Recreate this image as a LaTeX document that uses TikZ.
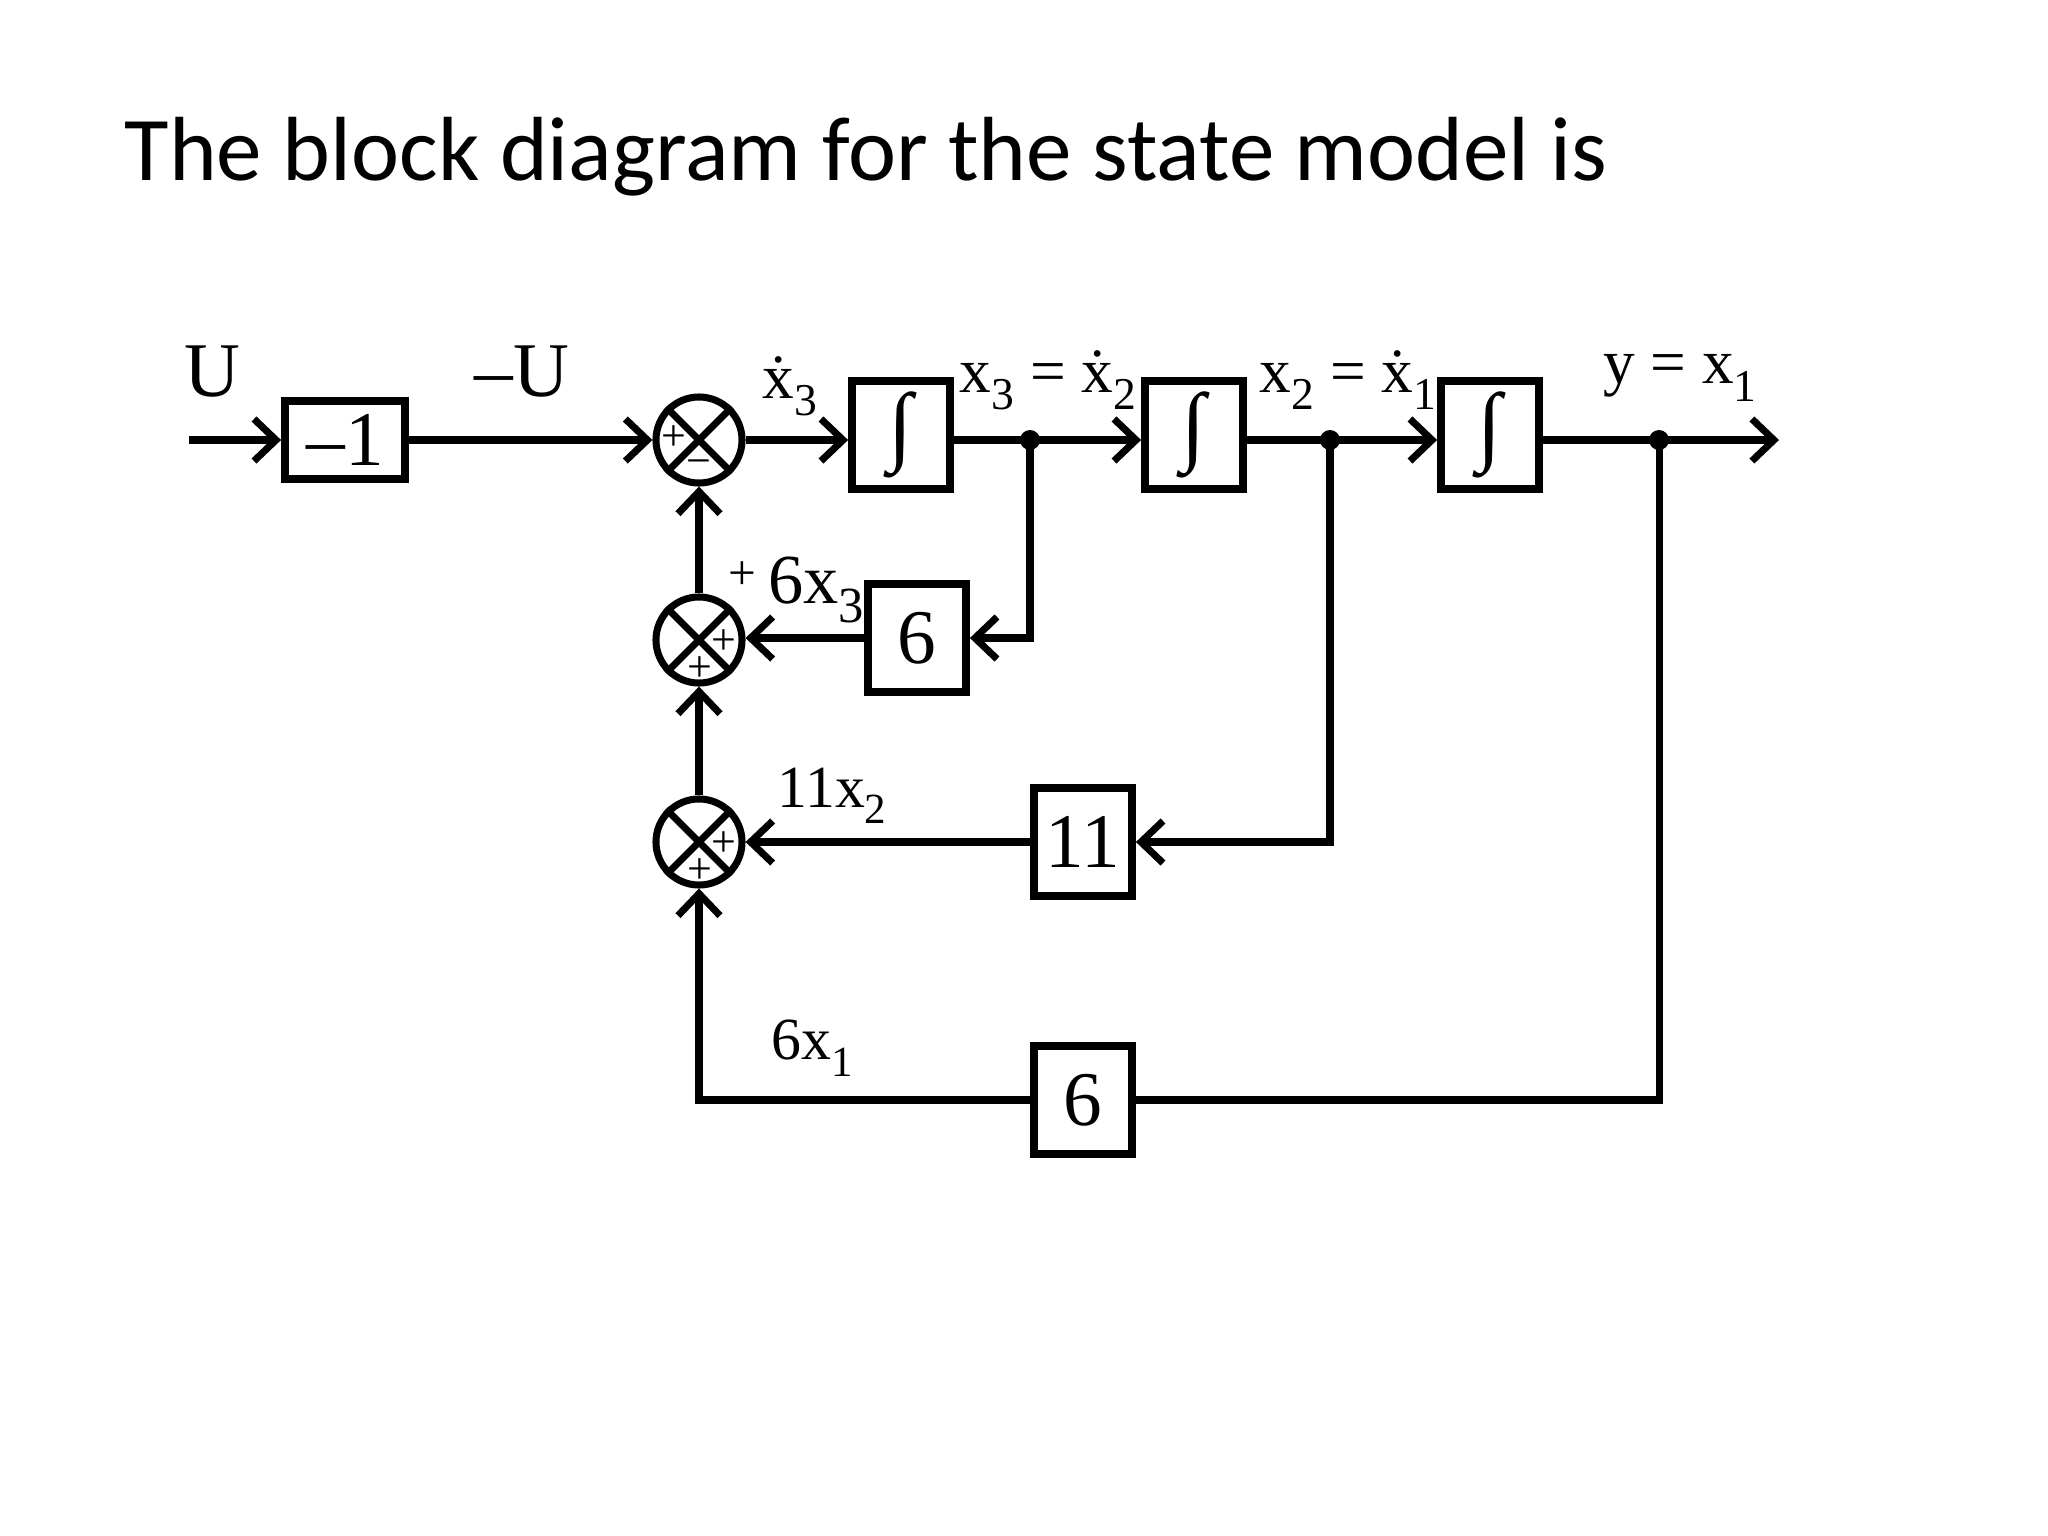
\documentclass[tikz,border=0pt]{standalone}
\usepackage{fontspec}
\setmainfont{Liberation Serif}
\newfontfamily\titlefont{Carlito}
\usetikzlibrary{arrows.meta}
\newcommand\lsub[1]{\raisebox{-0.6ex}{\scalebox{0.72}{#1}}}
\begin{document}
\begin{tikzpicture}[x=0.01cm,y=-0.01cm,
  every node/.style={inner sep=0pt},
  wire/.style={line width=2pt},
  arr/.style={wire,-{Straight Barb[length=0.22cm,width=0.42cm,line width=2pt]}},
  blk/.style={draw,line width=2.2pt,minimum width=0.98cm,minimum height=1.08cm,font=\fontsize{22}{26}\selectfont},
  intg/.style={blk,font=\fontsize{25}{28}\selectfont},
  sumj/.style={draw,circle,line width=2pt,minimum size=0.86cm},
  dotn/.style={circle,fill,minimum size=0.2cm},
  lbl/.style={font=\fontsize{18}{22}\selectfont},
  biglbl/.style={font=\fontsize{22}{26}\selectfont},
  smlbl/.style={font=\fontsize{17}{20}\selectfont},
  sgn/.style={font=\fontsize{12.5}{13}\selectfont},
]
\useasboundingbox (0,0) rectangle (2048,1536);
\fill[white] (0,0) rectangle (2048,1536);

% title
\node[anchor=base west,font=\titlefont\fontsize{25.9}{31}\selectfont] (title) at (124,180) {The block diagram for the state model is};

% forward path
\coordinate (in) at (189,440);
\node[blk,minimum width=1.2cm,minimum height=0.78cm] (m1) at (345,440) {--1};
\node[sumj] (s1) at (699,440) {};
\node[intg] (i1) at (901,435) {∫};
\node[dotn] (d1) at (1030,440) {};
\node[intg] (i2) at (1194,435) {∫};
\node[dotn] (d2) at (1330,440) {};
\node[intg] (i3) at (1490,435) {∫};
\node[dotn] (d3) at (1659,440) {};
\coordinate (out) at (1779,440);

% feedback blocks
\node[sumj] (s2) at (699,640) {};
\node[blk] (g6a) at (917,638) {6};
\node[sumj] (s3) at (699,842) {};
\node[blk] (g11) at (1083,842) {11};
\node[blk] (g6b) at (1083,1100) {6};

% crosses in summing junctions
\foreach \s in {s1,s2,s3}{
  \draw[wire] (\s.45) -- (\s.225) (\s.135) -- (\s.315);
}
% signs
\node[sgn] (s1p) at ([xshift=-0.25cm,yshift=0.02cm]s1.center) {+};
\node[sgn] (s1m) at ([yshift=-0.28cm]s1.center) {−};
\node[sgn] (s2p) at ([xshift=0.25cm,yshift=-0.02cm]s2.center) {+};
\node[sgn] (s2b) at ([xshift=0.01cm,yshift=-0.29cm]s2.center) {+};
\node[sgn] (s3p) at ([xshift=0.25cm,yshift=-0.02cm]s3.center) {+};
\node[sgn] (s3b) at ([xshift=0.01cm,yshift=-0.29cm]s3.center) {+};

% labels
\node[biglbl] (lU) at (212,372) {U};
\node[biglbl] (lmU) at (522,372) {--U};
\node[lbl] (lx3d) at (790,386) {\.{x}\lsub{3}};
\node[lbl] (lx3) at (1048,380) {x\lsub{3} = \.{x}\lsub{2}};
\node[lbl] (lx2) at (1348,380) {x\lsub{2} = \.{x}\lsub{1}};
\node[lbl] (ly) at (1680,378) {y = x\lsub{1}};
\node[font=\fontsize{14}{15}\selectfont] (lplus) at (742,576) {+};
\node[font=\fontsize{20}{24}\selectfont] (l6x3) at (816,590) {6x\lsub{3}};
\node[smlbl] (l11x2) at (832,796) {11x\lsub{2}};
\node[smlbl] (l6x1) at (812,1048) {6x\lsub{1}};

% forward connectors
\draw[arr] (in) -- (m1.west);
\draw[arr] (m1.east) -- (s1.west);
\draw[arr] (s1.east) -- (s1.east -| i1.west);
\draw[wire] (i1.east |- d1) -- (d1.center);
\draw[arr] (d1.center) -- (d1 -| i2.west);
\draw[wire] (i2.east |- d2) -- (d2.center);
\draw[arr] (d2.center) -- (d2 -| i3.west);
\draw[wire] (i3.east |- d3) -- (d3.center);
\draw[arr] (d3.center) -- (out);

% feedback connectors
\draw[arr] (d1.center) |- (g6a.east);
\draw[arr] (g6a.west) -- (g6a.west -| s2.east);
\draw[arr] (s2.north) -- (s1.south);
\draw[arr] (d2.center) |- (g11.east);
\draw[arr] (g11.west) -- (s3.east);
\draw[arr] (s3.north) -- (s2.south);
\draw[wire] (d3.center) |- (g6b.east);
\draw[arr] (g6b.west) -| (s3.south);
\end{tikzpicture}
\end{document}
